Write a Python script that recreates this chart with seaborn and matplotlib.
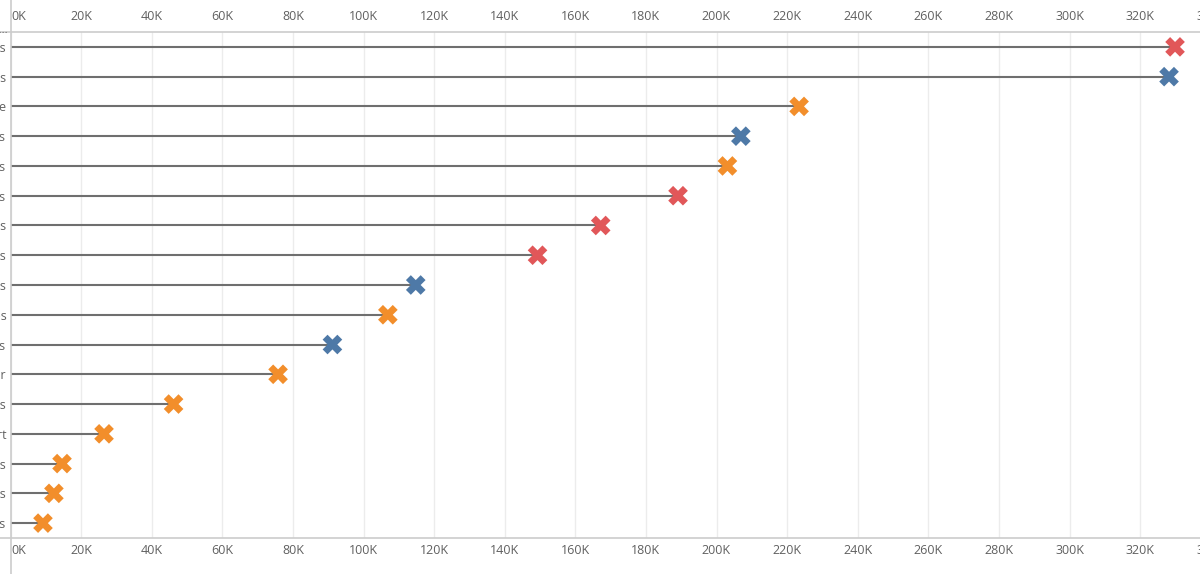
import matplotlib
matplotlib.use("Agg")
import matplotlib.pyplot as plt
from matplotlib.lines import Line2D
from matplotlib.ticker import MultipleLocator
from matplotlib.transforms import ScaledTranslation
import seaborn as sns
import pandas as pd

# ======= DATA =======
sub_categories = ["Phones", "Chairs", "Storage", "Tables", "Binders", "Machines",
                  "Accessories", "Copiers", "Bookcases", "Appliances", "Furnishings",
                  "Paper", "Supplies", "Art", "Envelopes", "Labels", "Fasteners"]
categories = ["Technology", "Furniture", "Office Supplies", "Furniture", "Office Supplies",
              "Technology", "Technology", "Technology", "Furniture", "Office Supplies",
              "Furniture", "Office Supplies", "Office Supplies", "Office Supplies",
              "Office Supplies", "Office Supplies", "Office Supplies"]
sales = [329900, 328200, 223400, 206900, 203100, 189100, 167200, 149300, 114800,
         106900, 91200, 75800, 46200, 26500, 14600, 12300, 9200]
axis_ticks = [0, 20000, 40000, 60000, 80000, 100000, 120000, 140000, 160000, 180000,
              200000, 220000, 240000, 260000, 280000, 300000, 320000, 340000]
palette = {"Furniture": "#4e79a7", "Office Supplies": "#f28e2b", "Technology": "#e15759"}
# ====================

df = pd.DataFrame({"sub_category": sub_categories, "category": categories, "sales": sales})

sns.set_style("white")
plt.rcParams["font.family"] = ["Open Sans", "DejaVu Sans"]

W, H = 1200, 574
fig = plt.figure(figsize=(W / 100, H / 100), dpi=100)

# axes runs past the right edge so the 340K label is cut like in the source
x0_px, top_px, bot_px = 10.5, 32, 538
px_per_k = 3.53
xmax = 355000
ax = fig.add_axes([x0_px / W, (H - bot_px) / H,
                   xmax / 1000 * px_per_k / W, (bot_px - top_px) / H])

# stems
ax.hlines(y=df["sub_category"], xmin=0, xmax=df["sales"], color="#6f6f6f",
          linewidth=1.5, zorder=2)

# markers
sns.scatterplot(data=df, x="sales", y="sub_category", hue="category", palette=palette,
                marker="X", s=200, linewidth=0, legend=False, zorder=3, ax=ax)

ax.set_xlim(0, xmax)
ax.set_ylim(len(df) - 0.5, -0.5)
ax.xaxis.set_major_locator(MultipleLocator(20000))
ax.grid(axis="x", color="#ececec", linewidth=1)
ax.grid(axis="y", visible=False)
ax.set_axisbelow(True)
for s in ax.spines.values():
    s.set_visible(False)

ax.tick_params(axis="x", length=0, labeltop=False, labelbottom=False)
ax.tick_params(axis="y", length=0, pad=3, labelsize=9, labelcolor="#606060")
ax.set_xlabel("")
ax.set_ylabel("")

# axis labels on top and bottom (Tableau style), first one nudged right
base = ax.get_xaxis_transform()
for v in axis_ticks:
    dx = 8.5 / 100 if v == 0 else 0
    lbl = f"{v / 1000:.0f}K"
    ax.text(v, 1, lbl, transform=base + ScaledTranslation(dx, 15 / 100, fig.dpi_scale_trans),
            ha="center", va="center", fontsize=9, color="#606060")
    ax.text(v, 0, lbl, transform=base + ScaledTranslation(dx, -13 / 100, fig.dpi_scale_trans),
            ha="center", va="center", fontsize=9, color="#606060")

# frame lines as in the source view
fig.add_artist(Line2D([0, 1], [(H - top_px) / H] * 2, color="#cccccc", linewidth=1.2))
fig.add_artist(Line2D([0, 1], [(H - bot_px) / H] * 2, color="#cccccc", linewidth=1.2))
fig.add_artist(Line2D([x0_px / W] * 2, [0, 1], color="#cccccc", linewidth=1.2))

# truncated header
fig.text(8 / W, (H - 30) / H, "Sub-Category...", ha="right", va="center",
         fontsize=8, color="#606060")

fig.savefig("out.png", dpi=100)
